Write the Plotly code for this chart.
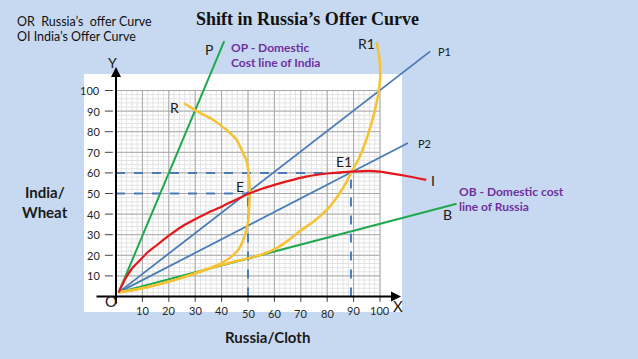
import plotly.graph_objects as go

# ---------------- data ----------------
ticks = [10, 20, 30, 40, 50, 60, 70, 80, 90, 100]

# India's offer curve OI
oi_x = [1, 2.5, 4, 6, 9, 12, 15.5, 20, 25, 30, 35, 40, 45, 50, 55, 60, 65, 72, 80, 89, 96, 100, 104, 110, 117.5]
oi_y = [2, 6, 9.6, 13.5, 17.5, 21.5, 25, 29.5, 34, 37.5, 40.8, 43.6, 46.7, 49.8, 52.2, 54.2, 56, 58.2, 59.7, 60.6, 61, 60.6, 59.8, 58.5, 56.6]

# Russia's offer curve OR
or_x = [1, 6, 11.6, 18, 24.2, 30, 36.9, 41, 44.4, 46.5, 48.2, 49.3, 50.1, 50.5, 50.7, 50.5, 50.1, 49.4, 48.2, 45.7, 41.9, 36.9, 32, 29.9, 25.8]
or_y = [2, 3, 4.5, 6.5, 8.8, 11.3, 14.5, 17, 20.1, 23, 27.4, 32, 37.1, 45, 50, 56, 61.4, 66, 69.5, 76, 80.8, 85.7, 89, 90.5, 93.8]

# Shifted Russia's offer curve OR1
or1_x = [1, 6, 11.6, 18, 24.2, 30, 36, 42, 50, 55, 59.6, 65, 69.7, 75, 79.8, 83, 85.5, 87.5, 89, 92, 94.5, 96.5, 98, 99.3, 100, 100, 99.5, 98.7]
or1_y = [2, 3, 4.5, 6.5, 8.8, 11.2, 13.8, 16, 18.5, 20.3, 22.6, 27, 31.8, 36.5, 42, 47, 51.7, 56, 60, 67, 75, 83, 90, 98, 105, 112, 118, 123.5]

# straight lines from the origin
op_x, op_y = [1, 41], [2, 124]          # OP domestic cost line of India
ob_x, ob_y = [1, 129], [2, 45]          # OB domestic cost line of Russia
p1_x, p1_y = [1, 119], [2, 119]         # terms of trade P1
p2_x, p2_y = [1, 110.6], [2, 74.5]      # terms of trade P2

# equilibria
e_pt = (50, 50)
e1_pt = (89, 60)

# ---------------- pixel mapping (figure = 638x359, no margins) ----------------
X0, XS = 116.0, 2.64
Y0, YS = 296.5, 2.06
xr = [(0 - X0) / XS, (638 - X0) / XS]
yr = [(Y0 - 359) / YS, (Y0 - 0) / YS]

BG = "#C7D9F0"
GREEN = "#1FA84F"
RED = "#E4171C"
BLUE = "#4A7AB8"
GOLD = "#F6C231"
PURPLE = "#7030A0"
FONT = "Lato"

fig = go.Figure()

# grid as traces
def grid_trace(step, color, width):
    gx, gy = [], []
    v = 0
    while v <= 100:
        gx += [v, v, None]
        gy += [0, 100, None]
        gx += [0, 100, None]
        gy += [v, v, None]
        v += step
    return go.Scatter(x=gx, y=gy, mode="lines", line=dict(color=color, width=width),
                      hoverinfo="skip", showlegend=False)

fig.add_trace(grid_trace(2, "#E3E3E3", 1))
fig.add_trace(grid_trace(10, "#A8A8A8", 1))

# dashed guides
fig.add_trace(go.Scatter(x=[0, e1_pt[0], None, 0, e_pt[0], None, e_pt[0], e_pt[0], None, e1_pt[0], e1_pt[0]],
                         y=[e1_pt[1], e1_pt[1], None, e_pt[1], e_pt[1], None, 0, e_pt[1], None, 0, e1_pt[1]],
                         mode="lines", line=dict(color=BLUE, width=2, dash="dash"),
                         hoverinfo="skip", showlegend=False))

def line(x, y, color, width):
    fig.add_trace(go.Scatter(x=x, y=y, mode="lines", line=dict(color=color, width=width, shape="spline", smoothing=0.6),
                             hoverinfo="skip", showlegend=False))

line(p1_x, p1_y, BLUE, 1.8)
line(p2_x, p2_y, BLUE, 1.8)
line(op_x, op_y, GREEN, 2)
line(ob_x, ob_y, GREEN, 2)
line(or_x, or_y, GOLD, 2.5)
line(or1_x, or1_y, GOLD, 2.5)
line(oi_x, oi_y, RED, 2.2)

shapes = [
    dict(type="rect", xref="x", yref="y", x0=(84 - X0) / XS, x1=(402 - X0) / XS,
         y0=(Y0 - 312) / YS, y1=(Y0 - 74) / YS, fillcolor="white", line=dict(width=0), layer="below"),
]
# y ticks (dashes) and x ticks
for t in ticks:
    shapes.append(dict(type="line", xref="x", yref="y", x0=-4.2, x1=-1.2, y0=t, y1=t,
                       line=dict(color="#404040", width=1)))
    shapes.append(dict(type="line", xref="x", yref="y", x0=t, x1=t, y0=0, y1=-2.6,
                       line=dict(color="#404040", width=1)))
fig.update_layout(shapes=shapes)

ann = []
# axes with arrows
ann.append(dict(x=0, y=(Y0 - 67) / YS, ax=0, ay=(Y0 - 305) / YS, xref="x", yref="y", axref="x", ayref="y",
                text="", showarrow=True, arrowhead=2, arrowsize=1, arrowwidth=2, arrowcolor="black"))
ann.append(dict(x=(401 - X0) / XS, y=0, ax=(95 - X0) / XS, ay=0, xref="x", yref="y", axref="x", ayref="y",
                text="", showarrow=True, arrowhead=2, arrowsize=1, arrowwidth=2, arrowcolor="black"))

# tick labels
for t in ticks:
    ann.append(dict(x=-5.4, y=t, xref="x", yref="y", text=str(t), showarrow=False, xanchor="right",
                    font=dict(family=FONT, size=11, color="#262626")))
    ann.append(dict(x=t, y=-7.0 if (t < 50 or t > 80) else -8.4, xref="x", yref="y", text=str(t),
                    showarrow=False, font=dict(family=FONT, size=11, color="#262626")))

def lab(x, y, text, size=14, color="#1a1a1a", anchor="center"):
    ann.append(dict(x=x, y=y, xref="x", yref="y", text=text, showarrow=False, xanchor=anchor,
                    font=dict(family=FONT, size=size, color=color)))

lab(22.3, 91.7, "R")
lab(35.2, 119.7, "P")
lab(94.7, 122.6, "R1")
lab(124.3, 118.7, "P1", size=11)
lab(117.0, 74.5, "P2", size=11)
lab(86.4, 65.3, "E1")
lab(47.0, 53.2, "E")
lab(120.1, 56.1, "I")
lab(125.4, 39.6, "B")
lab(-1.9, -2.4, "O", size=15)
lab(107.0, -4.6, "X", size=15)
lab(-1.5, 113.8, "Y", size=14)

def ptext(px, py, text, size, color="#1a1a1a", bold=False, family=FONT, anchor="left"):
    t = "<b>" + text + "</b>" if bold else text
    ann.append(dict(x=px / 638, y=1 - py / 359, xref="paper", yref="paper", text=t, showarrow=False,
                    xanchor=anchor, yanchor="middle", font=dict(family=family, size=size, color=color)))

ptext(307, 19, "Shift in Russia’s Offer Curve", 18, color="#111111", bold=True,
      family="Liberation Serif", anchor="center")
ptext(15, 21, "OR  Russia’s  offer Curve", 12.5, color="#111111")
ptext(15, 36, "OI India’s Offer Curve", 12.5, color="#111111")
ptext(229, 47, "OP - Domestic", 12, color=PURPLE, bold=True)
ptext(229, 62, "Cost line of India", 12, color=PURPLE, bold=True)
ptext(457, 191, "OB - Domestic cost", 12, color=PURPLE, bold=True)
ptext(457, 206, "line of Russia", 12, color=PURPLE, bold=True)
ptext(45, 192, "India/", 15, bold=True, anchor="center")
ptext(45, 212, "Wheat", 15, bold=True, anchor="center")
ptext(267, 337, "Russia/Cloth", 15, bold=True, anchor="center")

fig.update_layout(
    annotations=ann,
    width=638, height=359,
    margin=dict(l=0, r=0, t=0, b=0),
    paper_bgcolor=BG, plot_bgcolor=BG,
    xaxis=dict(range=xr, visible=False, showgrid=False, zeroline=False, fixedrange=True),
    yaxis=dict(range=yr, visible=False, showgrid=False, zeroline=False, fixedrange=True),
    showlegend=False,
)

fig.write_html("out.html", config={"displayModeBar": False},
               post_script="document.body.style.margin='0';document.body.style.overflow='hidden';")
